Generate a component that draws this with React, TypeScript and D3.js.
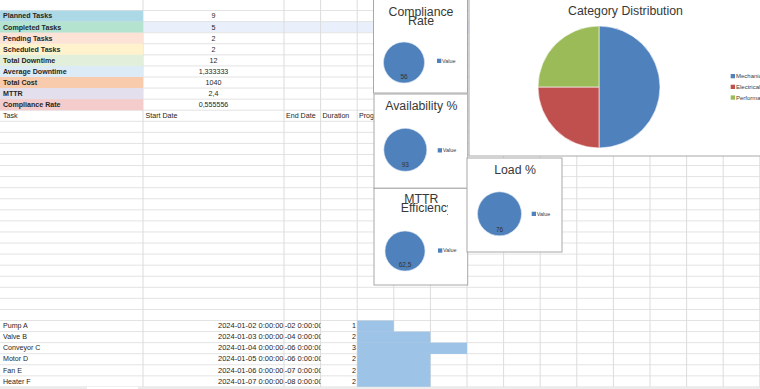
import React from 'react';
import * as d3 from 'd3';

const W = 760;
const H = 389;

// summary block (column A / B)
const summaryLabels = ['Planned Tasks', 'Completed Tasks', 'Pending Tasks', 'Scheduled Tasks', 'Total Downtime', 'Average Downtime', 'Total Cost', 'MTTR', 'Compliance Rate'];
const summaryValues = ['9', '5', '2', '2', '12', '1,333333', '1040', '2,4', '0,555556'];
const summaryFills = ['#add8e6', '#b4e4cf', '#fde2d6', '#fff2cc', '#e2efda', '#ddebf7', '#f8cbad', '#e4dfec', '#f4cccc'];

// task table
const taskHeaders = ['Task', 'Start Date', 'End Date', 'Duration', 'Progress'];
const tasks = ['Pump A', 'Valve B', 'Conveyor C', 'Motor D', 'Fan E', 'Heater F'];
const startDates = ['2024-01-02 0:00:00', '2024-01-03 0:00:00', '2024-01-04 0:00:00', '2024-01-05 0:00:00', '2024-01-06 0:00:00', '2024-01-07 0:00:00'];
const endDates = ['2024-01-02 0:00:00', '2024-01-04 0:00:00', '2024-01-06 0:00:00', '2024-01-06 0:00:00', '2024-01-07 0:00:00', '2024-01-08 0:00:00'];
const durations = [1, 2, 3, 2, 2, 2];

// kpi pies
const kpiTitles = [['Compliance', 'Rate'], ['Availability %'], ['MTTR', 'Efficiency'], ['Load %']];
const kpiValues = [56, 93, 62.5, 76];
const kpiLabels = ['56', '93', '62,5', '76'];

// category pie
const categoryNames = ['Mechanical', 'Electrical', 'Performance'];
const categoryValues = [2, 1, 1];
const categoryColors = ['#4f81bd', '#c0504d', '#9bbb59'];

const FONT = "'Liberation Sans', Arial, sans-serif";
const GRID = '#e3e3e3';
const BLUE = '#4f81bd';

// sheet geometry
const rowY = d3.scaleLinear().domain([0, 1]).range([-1, 10.07]);
const colEdges = [0, 143, 284, ...d3.range(1, 14).map((k) => 284 + k * 36.6)];
const ganttX = d3.scaleLinear().domain([0, 1]).range([357.2, 393.8]);
const SUMMARY_ROW = 1;
const HEADER_ROW = 10;
const TASK_ROW = 29;

// chart boxes
const kpiBoxes = [
  { x: 373.5, y: -5, w: 94, h: 98, titleY: 15.5, cx: 404, cy: 62.5, r: 20.5, legX: 437, legY: 61, clip: 0 },
  { x: 374, y: 94, w: 93.7, h: 94.3, titleY: 109.5, cx: 405.3, cy: 149.8, r: 21.5, legX: 437.7, legY: 150.5, clip: 0 },
  { x: 374, y: 188.3, w: 93.7, h: 96.7, titleY: 203, cx: 405, cy: 251, r: 20, legX: 438, legY: 250.7, clip: 448 },
  { x: 467, y: 158, w: 95, h: 94, titleY: 174, cx: 499.5, cy: 213.8, r: 22, legX: 531.7, legY: 214, clip: 0 },
];

const KpiChart: React.FC<{ i: number }> = ({ i }) => {
  const b = kpiBoxes[i];
  const slices = d3.pie<number>().sort(null)([kpiValues[i]]);
  const arc = d3.arc<d3.PieArcDatum<number>>().innerRadius(0).outerRadius(b.r);
  const lines = kpiTitles[i];
  const cxTitle = b.x + b.w / 2 + 0.5;
  return (
    <g>
      <rect x={b.x} y={b.y} width={b.w} height={b.h} fill="#fff" stroke="#a8a8a8" strokeWidth={1} />
      {b.clip ? (
        <defs>
          <clipPath id={`tclip${i}`}>
            <rect x={b.x} y={b.y} width={b.clip - b.x} height={30} />
          </clipPath>
        </defs>
      ) : null}
      <g clipPath={b.clip ? `url(#tclip${i})` : undefined} fontFamily={FONT} fontSize={12.3} fill="#383838">
        {lines.map((t, j) => (
          b.clip && j === 1 ? (
            <text key={j} x={400.7} y={b.titleY + j * 9.3}>{t}</text>
          ) : (
            <text key={j} x={cxTitle} y={b.titleY + j * 9.5} textAnchor="middle">{t}</text>
          )
        ))}
      </g>
      <g transform={`translate(${b.cx},${b.cy})`}>
        {slices.map((s, j) => (
          <path key={j} d={arc(s) || ''} fill={BLUE} stroke="#dbe5f1" strokeWidth={0.6} />
        ))}
        <text y={b.r * 0.72 + 2} textAnchor="middle" fontFamily={FONT} fontSize={6.5} fill="#333">{kpiLabels[i]}</text>
      </g>
      <rect x={b.legX} y={b.legY - 2.3} width={4.3} height={4.3} fill={BLUE} />
      <text x={b.legX + 5} y={b.legY + 1.6} fontFamily={FONT} fontSize={5.5} fill="#404040">Value</text>
    </g>
  );
};

const CategoryChart: React.FC = () => {
  const cx = 599;
  const cy = 87;
  const r = 61;
  const slices = d3.pie<number>().sort(null)(categoryValues);
  const arc = d3.arc<d3.PieArcDatum<number>>().innerRadius(0).outerRadius(r);
  return (
    <g>
      <rect x={469} y={-5} width={300} height={161} fill="#fff" stroke="#a8a8a8" strokeWidth={1} />
      <text x={625.5} y={15} textAnchor="middle" fontFamily={FONT} fontSize={12.3} fill="#383838">Category Distribution</text>
      <g transform={`translate(${cx},${cy})`}>
        {slices.map((s, j) => (
          <path key={j} d={arc(s) || ''} fill={categoryColors[j]} stroke="#fff" strokeWidth={0.6} />
        ))}
      </g>
      {categoryNames.map((n, j) => (
        <g key={n} transform={`translate(730.7,${74 + j * 10.7})`}>
          <rect width={4.3} height={4.3} fill={categoryColors[j]} />
          <text x={5.3} y={4.2} fontFamily={FONT} fontSize={6} fill="#404040">{n}</text>
        </g>
      ))}
    </g>
  );
};

const App: React.FC = () => {
  const rows = d3.range(0, 36);
  const rh = rowY(1) - rowY(0);
  return (
    <svg width={W} height={H} style={{ position: 'fixed', left: 0, top: 0, background: '#fff' }}>
      <defs>
        <clipPath id="colC">
          <rect x={284.5} y={0} width={36} height={H} />
        </clipPath>
      </defs>
      <rect width={W} height={H} fill="#fff" />

      {/* highlighted row */}
      <rect x={143} y={rowY(SUMMARY_ROW + 1)} width={W - 143} height={rh} fill="#e9f0fc" />

      {/* gridlines */}
      {rows.map((i) => (
        <line key={`h${i}`} x1={0} x2={W} y1={rowY(i) + 0.5} y2={rowY(i) + 0.5} stroke={GRID} strokeWidth={1} />
      ))}
      {colEdges.slice(1).map((x) => (
        <line key={`v${x}`} x1={x} x2={x} y1={0} y2={H} stroke="#dcdcdc" strokeWidth={1} />
      ))}

      {/* summary block */}
      <g fontFamily={FONT} fontSize={7.1}>
        {summaryLabels.map((l, i) => (
          <g key={l}>
            <rect x={0} y={rowY(SUMMARY_ROW + i) + 0.5} width={143} height={rh} fill={summaryFills[i]} />
            <text x={3} y={rowY(SUMMARY_ROW + i) + 8.4} fontWeight="bold" fill="#262626">{l}</text>
            <text x={213.5} y={rowY(SUMMARY_ROW + i) + 8.4} textAnchor="middle" fill="#262626">{summaryValues[i]}</text>
          </g>
        ))}
        {taskHeaders.map((t, j) => (
          <text key={t} x={[3, 145.5, 286, 322.5, 359][j]} y={rowY(HEADER_ROW) + 8.3} fill="#262626">{t}</text>
        ))}
        {tasks.map((t, i) => {
          const y = rowY(TASK_ROW + i);
          return (
            <g key={t}>
              <text x={3} y={y + 8.2} fill="#262626">{t}</text>
              <text x={283.5} y={y + 8.2} textAnchor="end" fontSize={7.5} fill="#262626">{startDates[i]}</text>
              <text x={322.6} y={y + 8.2} textAnchor="end" fontSize={7.5} fill="#262626" clipPath="url(#colC)">{endDates[i]}</text>
              <text x={356} y={y + 8.2} textAnchor="end" fill="#262626">{durations[i]}</text>
            </g>
          );
        })}
      </g>

      {/* gantt bars */}
      {durations.map((d, i) => (
        <rect key={i} x={ganttX(0)} y={rowY(TASK_ROW + i) + 0.5} width={ganttX(d) - ganttX(0)} height={rh + 0.2} fill="#9dc3e6" />
      ))}

      {/* bottom tab strip */}
      <rect x={0} y={386.8} width={W} height={3} fill="#ececec" />
      <rect x={87} y={386.8} width={51} height={3} fill="#fff" />

      <CategoryChart />
      {kpiBoxes.map((_, i) => (
        <KpiChart key={i} i={i} />
      ))}
    </svg>
  );
};

export default App;
